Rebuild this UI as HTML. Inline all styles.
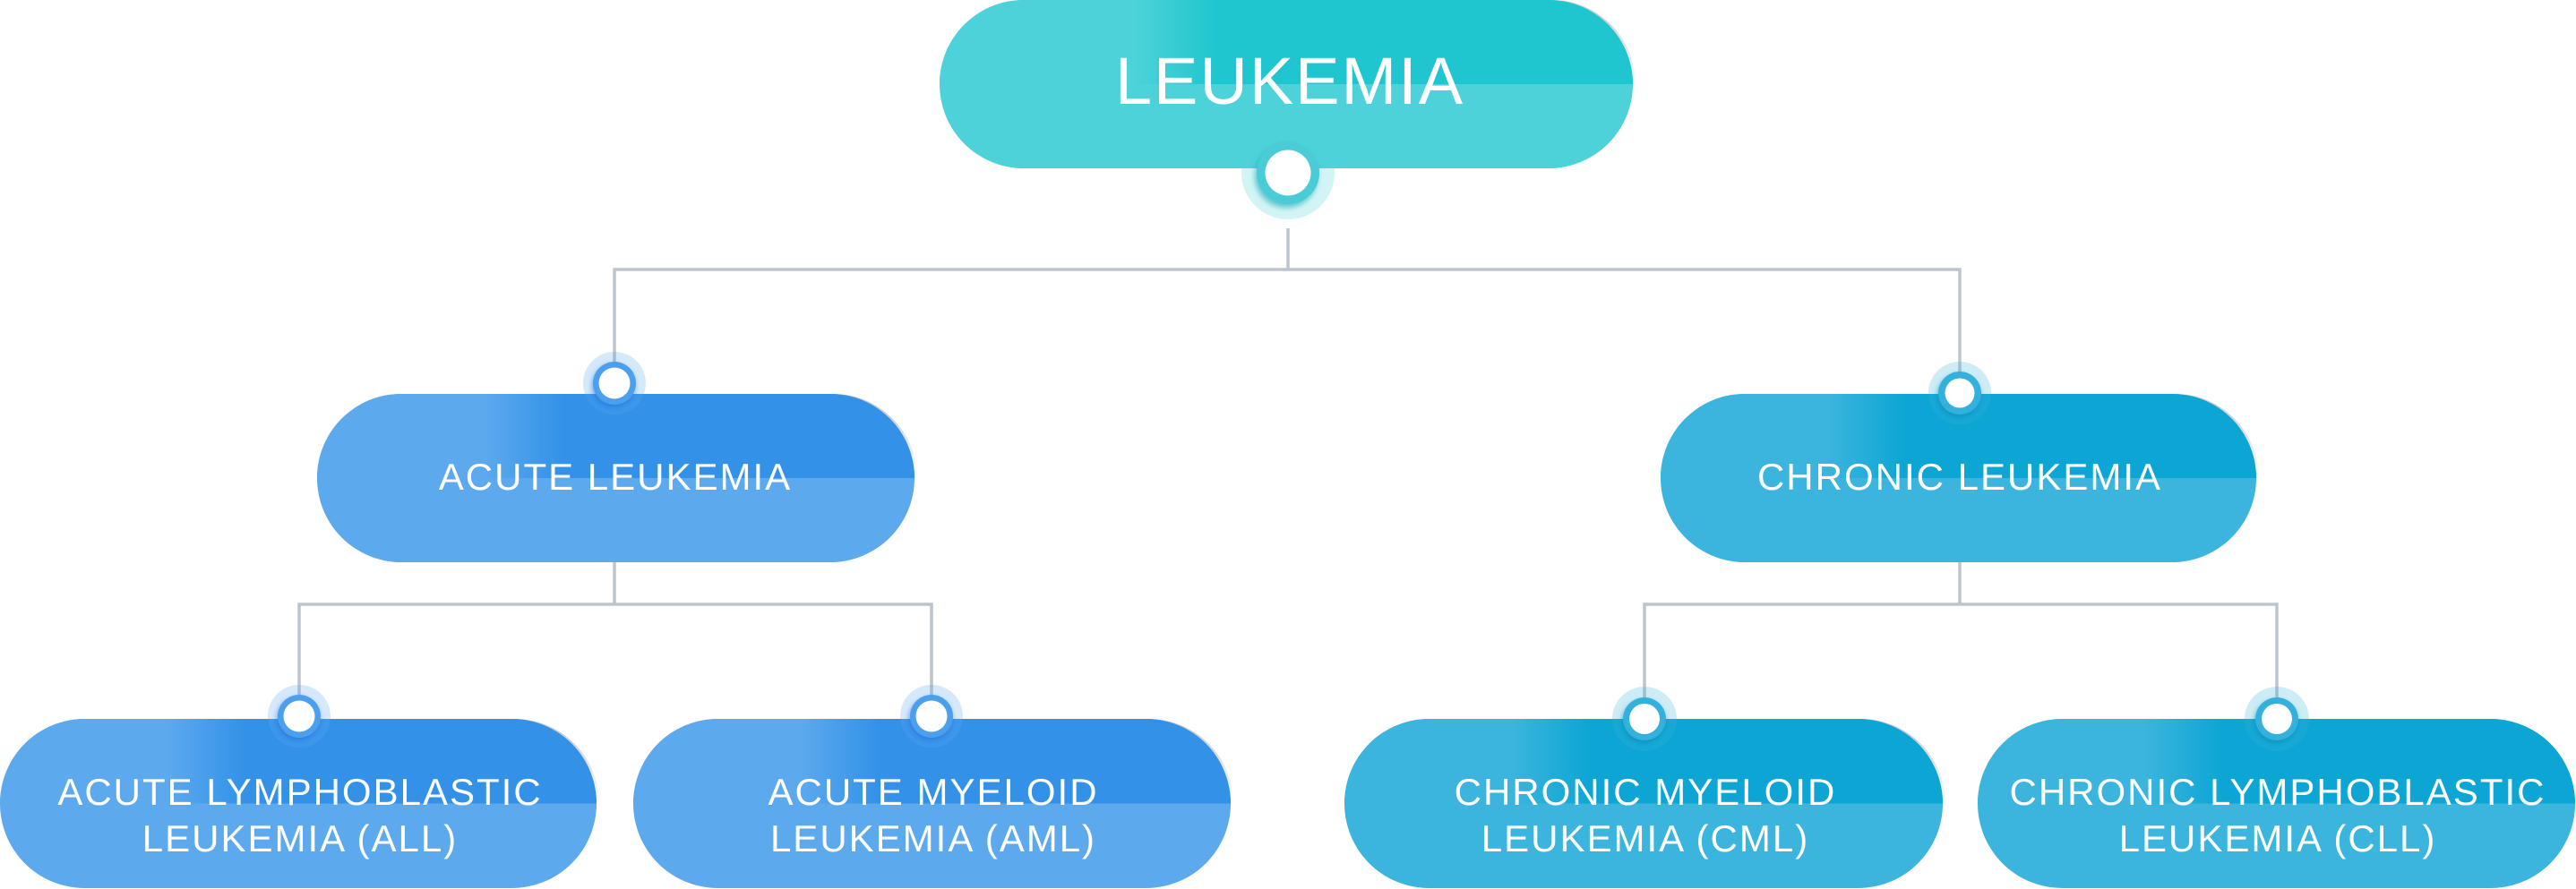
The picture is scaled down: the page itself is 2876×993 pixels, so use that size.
<!DOCTYPE html>
<html><head><meta charset="utf-8"><style>
html,body{margin:0;padding:0;background:#fff;}
svg{display:block}
text{font-family:"Liberation Sans",Arial,sans-serif;fill:#fff;}
</style></head><body>
<svg width="2876" height="993" viewBox="0 0 2876 993" xmlns="http://www.w3.org/2000/svg">
<defs>
  <linearGradient id="gM" x1="0" y1="0" x2="1" y2="0">
    <stop offset="0" stop-color="#4DD2D9"/><stop offset="0.28" stop-color="#4DD2D9"/>
    <stop offset="0.40" stop-color="#1FC6CF"/><stop offset="1" stop-color="#1FC6CF"/>
  </linearGradient>
  <linearGradient id="gA" x1="0" y1="0" x2="1" y2="0">
    <stop offset="0" stop-color="#5CA9EE"/><stop offset="0.28" stop-color="#5CA9EE"/>
    <stop offset="0.41" stop-color="#3392E8"/><stop offset="1" stop-color="#3392E8"/>
  </linearGradient>
  <linearGradient id="gC" x1="0" y1="0" x2="1" y2="0">
    <stop offset="0" stop-color="#3BB5DD"/><stop offset="0.28" stop-color="#3BB5DD"/>
    <stop offset="0.41" stop-color="#0CA5D4"/><stop offset="1" stop-color="#0CA5D4"/>
  </linearGradient>
  <linearGradient id="sh" x1="0" y1="0" x2="0" y2="1">
    <stop offset="0" stop-color="#c2c2c2" stop-opacity="1"/>
    <stop offset="0.5" stop-color="#c2c2c2" stop-opacity="0"/>
  </linearGradient>
  <filter id="blur" x="-50%" y="-50%" width="200%" height="200%">
    <feGaussianBlur stdDeviation="3"/>
  </filter>
</defs>

<!-- connector lines -->
<g stroke="#BCC5CE" stroke-width="3.5" fill="none">
  <path d="M1438 255 V301"/>
  <path d="M686 428 V301 H2188 V439"/>
  <path d="M686 628 V675"/>
  <path d="M334 800 V675 H1040 V800"/>
  <path d="M2188 628 V675"/>
  <path d="M1836 803 V675 H2542 V803"/>
</g>

<!-- pills: gray shadow, base, top half gradient -->
<!-- main -->
<rect x="1052" y="0" width="774" height="188" rx="94" fill="url(#sh)"/>
<rect x="1049" y="0" width="774" height="188" rx="94" fill="#4DD2D9"/>
<path d="M1049,94 A94,94 0 0 1 1143,0 H1729 A94,94 0 0 1 1823,94 Z" fill="url(#gM)"/>
<!-- acute -->
<rect x="357" y="440" width="667" height="188" rx="94" fill="url(#sh)"/>
<rect x="354" y="440" width="667" height="188" rx="94" fill="#5CA9EE"/>
<path d="M354,534 A94,94 0 0 1 448,440 H927 A94,94 0 0 1 1021,534 Z" fill="url(#gA)"/>
<!-- chronic -->
<rect x="1857" y="440" width="665" height="188" rx="94" fill="url(#sh)"/>
<rect x="1854" y="440" width="665" height="188" rx="94" fill="#3BB5DD"/>
<path d="M1854,534 A94,94 0 0 1 1948,440 H2425 A94,94 0 0 1 2519,534 Z" fill="url(#gC)"/>
<!-- ALL -->
<rect x="3" y="803" width="666" height="189" rx="94.5" fill="url(#sh)"/>
<rect x="0" y="803" width="666" height="189" rx="94.5" fill="#5CA9EE"/>
<path d="M0,897.5 A94.5,94.5 0 0 1 94.5,803 H571.5 A94.5,94.5 0 0 1 666,897.5 Z" fill="url(#gA)"/>
<!-- AML -->
<rect x="710" y="803" width="667" height="189" rx="94.5" fill="url(#sh)"/>
<rect x="707" y="803" width="667" height="189" rx="94.5" fill="#5CA9EE"/>
<path d="M707,897.5 A94.5,94.5 0 0 1 801.5,803 H1279.5 A94.5,94.5 0 0 1 1374,897.5 Z" fill="url(#gA)"/>
<!-- CML -->
<rect x="1504" y="803" width="668" height="189" rx="94.5" fill="url(#sh)"/>
<rect x="1501" y="803" width="668" height="189" rx="94.5" fill="#3BB5DD"/>
<path d="M1501,897.5 A94.5,94.5 0 0 1 1595.5,803 H2074.5 A94.5,94.5 0 0 1 2169,897.5 Z" fill="url(#gC)"/>
<!-- CLL -->
<rect x="2208" y="803" width="667" height="189" rx="94.5" fill="#3BB5DD"/>
<path d="M2208,897.5 A94.5,94.5 0 0 1 2302.5,803 H2780.5 A94.5,94.5 0 0 1 2875,897.5 Z" fill="url(#gC)"/>

<!-- connector circles -->
<!-- main -->
<circle cx="1438" cy="193" r="52" fill="#4DD2D9" fill-opacity="0.25"/>
<circle cx="1436" cy="197" r="35" fill="#14A9B3" fill-opacity="0.6" filter="url(#blur)"/>
<circle cx="1438" cy="193" r="35" fill="#49CCD6"/>
<circle cx="1438" cy="193" r="25.5" fill="#fff"/>
<!-- acute -->
<circle cx="686" cy="428" r="35" fill="#5CA9EE" fill-opacity="0.25"/>
<circle cx="685" cy="431" r="24" fill="#1F6FD8" fill-opacity="0.6" filter="url(#blur)"/>
<circle cx="686" cy="428" r="24" fill="#4C9FEE"/>
<circle cx="686" cy="428" r="17.5" fill="#fff"/>
<!-- chronic -->
<circle cx="2188" cy="439" r="35" fill="#3BB5DD" fill-opacity="0.25"/>
<circle cx="2187" cy="442" r="24" fill="#0A88B8" fill-opacity="0.6" filter="url(#blur)"/>
<circle cx="2188" cy="439" r="24" fill="#33B0DC"/>
<circle cx="2188" cy="439" r="16.5" fill="#fff"/>
<!-- ALL -->
<circle cx="334" cy="800" r="35" fill="#5CA9EE" fill-opacity="0.25"/>
<circle cx="333" cy="803" r="24" fill="#1F6FD8" fill-opacity="0.6" filter="url(#blur)"/>
<circle cx="334" cy="800" r="24" fill="#4C9FEE"/>
<circle cx="334" cy="800" r="17.5" fill="#fff"/>
<!-- AML -->
<circle cx="1040" cy="800" r="35" fill="#5CA9EE" fill-opacity="0.25"/>
<circle cx="1039" cy="803" r="24" fill="#1F6FD8" fill-opacity="0.6" filter="url(#blur)"/>
<circle cx="1040" cy="800" r="24" fill="#4C9FEE"/>
<circle cx="1040" cy="800" r="17.5" fill="#fff"/>
<!-- CML -->
<circle cx="1836" cy="803" r="36" fill="#3BB5DD" fill-opacity="0.25"/>
<circle cx="1835" cy="806" r="24" fill="#0A88B8" fill-opacity="0.6" filter="url(#blur)"/>
<circle cx="1836" cy="803" r="24" fill="#33B0DC"/>
<circle cx="1836" cy="803" r="17" fill="#fff"/>
<!-- CLL -->
<circle cx="2542" cy="803" r="36" fill="#3BB5DD" fill-opacity="0.25"/>
<circle cx="2541" cy="806" r="24" fill="#0A88B8" fill-opacity="0.6" filter="url(#blur)"/>
<circle cx="2542" cy="803" r="24" fill="#33B0DC"/>
<circle cx="2542" cy="803" r="17" fill="#fff"/>

<!-- labels -->
<text x="1440" y="116" font-size="74" letter-spacing="2" text-anchor="middle">LEUKEMIA</text>
<text x="687" y="547" font-size="42" letter-spacing="2" text-anchor="middle">ACUTE LEUKEMIA</text>
<text x="2188" y="547" font-size="42" letter-spacing="2" text-anchor="middle">CHRONIC LEUKEMIA</text>

<text x="335" y="899" font-size="42" letter-spacing="2" text-anchor="middle">ACUTE LYMPHOBLASTIC</text>
<text x="335" y="951" font-size="42" letter-spacing="2" text-anchor="middle">LEUKEMIA (ALL)</text>

<text x="1042" y="899" font-size="42" letter-spacing="2" text-anchor="middle">ACUTE MYELOID</text>
<text x="1042" y="951" font-size="42" letter-spacing="2" text-anchor="middle">LEUKEMIA (AML)</text>

<text x="1837" y="899" font-size="42" letter-spacing="2" text-anchor="middle">CHRONIC MYELOID</text>
<text x="1837" y="951" font-size="42" letter-spacing="2" text-anchor="middle">LEUKEMIA (CML)</text>

<text x="2543" y="899" font-size="42" letter-spacing="2" text-anchor="middle">CHRONIC LYMPHOBLASTIC</text>
<text x="2543" y="951" font-size="42" letter-spacing="2" text-anchor="middle">LEUKEMIA (CLL)</text>
</svg>
</body></html>
